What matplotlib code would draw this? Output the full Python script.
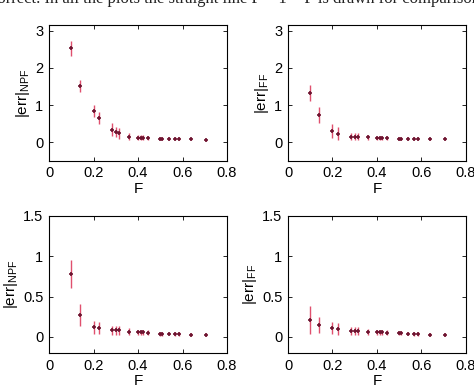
import matplotlib
matplotlib.use('Agg')
import matplotlib.pyplot as plt
import matplotlib.ticker as ticker

plt.rcParams['font.family'] = 'Liberation Sans'
plt.rcParams['mathtext.default'] = 'regular'

F = [0.1, 0.141, 0.2, 0.224, 0.283, 0.3, 0.316, 0.361, 0.4, 0.412, 0.424,
     0.447, 0.5, 0.51, 0.539, 0.566, 0.583, 0.64, 0.707]

npf_top = [2.52, 1.51, 0.84, 0.66, 0.34, 0.28, 0.24, 0.15, 0.12, 0.12, 0.12,
           0.11, 0.10, 0.10, 0.10, 0.09, 0.09, 0.08, 0.07]
npf_top_err = [0.19, 0.17, 0.17, 0.16, 0.17, 0.13, 0.14, 0.10, 0.07, 0.07, 0.07,
               0.06, 0.05, 0.05, 0.04, 0.04, 0.04, 0.03, 0.03]

ff_top = [1.32, 0.74, 0.31, 0.23, 0.15, 0.15, 0.15, 0.13, 0.12, 0.12, 0.12,
          0.11, 0.10, 0.10, 0.10, 0.10, 0.09, 0.08, 0.08]
ff_top_err = [0.22, 0.22, 0.19, 0.18, 0.10, 0.10, 0.10, 0.07, 0.06, 0.06, 0.06,
              0.05, 0.05, 0.05, 0.04, 0.04, 0.04, 0.03, 0.03]

npf_bot = [0.78, 0.27, 0.12, 0.11, 0.08, 0.08, 0.08, 0.065, 0.055, 0.055, 0.055,
           0.05, 0.04, 0.04, 0.04, 0.035, 0.035, 0.03, 0.03]
npf_bot_err = [0.17, 0.14, 0.08, 0.07, 0.06, 0.06, 0.06, 0.04, 0.035, 0.035, 0.035,
               0.03, 0.025, 0.025, 0.02, 0.02, 0.02, 0.015, 0.015]

ff_bot = [0.21, 0.15, 0.11, 0.10, 0.075, 0.075, 0.075, 0.06, 0.055, 0.055, 0.055,
          0.05, 0.045, 0.045, 0.04, 0.035, 0.035, 0.03, 0.03]
ff_bot_err = [0.17, 0.10, 0.07, 0.07, 0.05, 0.05, 0.05, 0.04, 0.03, 0.03, 0.03,
              0.03, 0.025, 0.025, 0.02, 0.02, 0.02, 0.015, 0.015]

panels = [
    ([0.1034, 0.582, 0.3755, 0.353], npf_top, npf_top_err, 'NPF', (-0.5, 3.15), [0, 1, 2, 3]),
    ([0.6076, 0.582, 0.3755, 0.353], ff_top, ff_top_err, 'FF', (-0.5, 3.15), [0, 1, 2, 3]),
    ([0.1034, 0.083, 0.3755, 0.356], npf_bot, npf_bot_err, 'NPF', (-0.2, 1.5), [0, 0.5, 1, 1.5]),
    ([0.6076, 0.083, 0.3755, 0.356], ff_bot, ff_bot_err, 'FF', (-0.2, 1.5), [0, 0.5, 1, 1.5]),
]

fig = plt.figure(figsize=(4.74, 3.85), dpi=100)

fmt = ticker.FuncFormatter(lambda v, p: ('%g' % v))

for rect, y, yerr, sub, ylim, yt in panels:
    ax = fig.add_axes(rect)
    ax.errorbar(F, y, yerr=yerr, fmt='none', ecolor='#e0506e', elinewidth=1.0, capsize=0)
    ax.plot(F, y, '+', ms=3.5, mew=1.2, color='#6e1430')
    ax.set_xlim(0, 0.8)
    ax.set_ylim(*ylim)
    ax.set_xticks([0, 0.2, 0.4, 0.6, 0.8])
    ax.set_yticks(yt)
    ax.xaxis.set_major_formatter(fmt)
    ax.yaxis.set_major_formatter(fmt)
    ax.tick_params(direction='in', top=True, right=True, length=3, width=0.6,
                   labelsize=10.5, pad=4)
    for s in ax.spines.values():
        s.set_linewidth(0.8)
    ax.set_xlabel('F', fontsize=11, labelpad=1)
    ax.set_ylabel('$|err|_{%s}$' % sub, fontsize=11, labelpad=2)

# caption line from the page above, mostly cropped away
fig.text(0.5, 1.003, 'correct. In all the plots the straight line F = 1 \u2212 F is drawn for comparison.',
         ha='center', va='center', fontsize=12, family='Liberation Serif', color='#222222')

fig.savefig('out.png', dpi=100)
